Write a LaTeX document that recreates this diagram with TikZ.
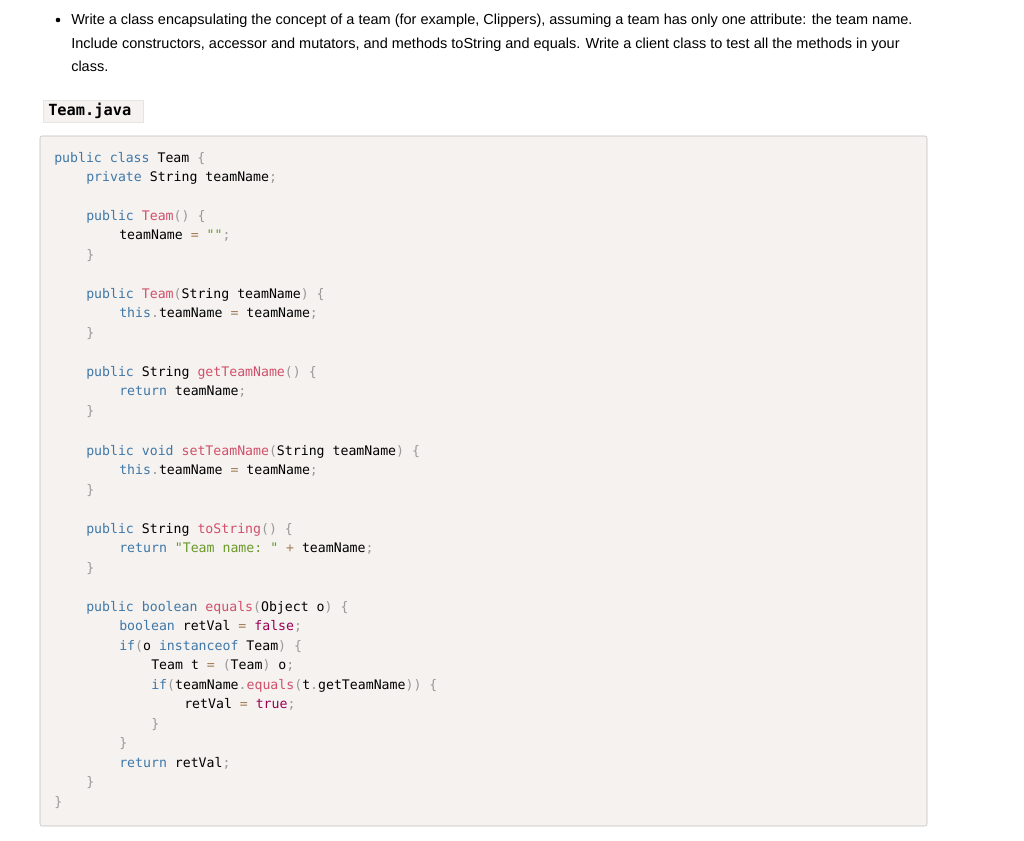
\documentclass[tikz,border=0pt]{standalone}
\usepackage{fontspec}
\setmainfont{Liberation Sans}
\setmonofont{DejaVu Sans Mono}
\usetikzlibrary{positioning}
\definecolor{kwblue}{HTML}{4078A8}
\definecolor{fnred}{HTML}{D0506A}
\definecolor{strgreen}{HTML}{6A9A2A}
\definecolor{punctgray}{HTML}{999999}
\definecolor{opbrown}{HTML}{A67F59}
\definecolor{boolpurple}{HTML}{990055}
\definecolor{codebg}{HTML}{F5F2F0}
\newcommand{\kw}[1]{\textcolor{kwblue}{#1}}
\newcommand{\fn}[1]{\textcolor{fnred}{#1}}
\newcommand{\st}[1]{\textcolor{strgreen}{#1}}
\newcommand{\pu}[1]{\textcolor{punctgray}{#1}}
\newcommand{\op}[1]{\textcolor{opbrown}{#1}}
\newcommand{\bo}[1]{\textcolor{boolpurple}{#1}}
\tikzset{
  prose/.style={anchor=base west, inner sep=0pt, font=\fontsize{10.87}{12}\selectfont},
  code/.style={anchor=base west, inner sep=0pt, font=\ttfamily\fontsize{9.9}{12}\selectfont}
}
\begin{document}
\begin{tikzpicture}[x=0.75pt,y=-0.75pt]
\useasboundingbox[fill=white] (0,0) rectangle (1024,841);
% task text
\fill (58,20) circle (2.3);
\node[prose] (t1) at (71,25) {Write a class encapsulating the concept of a team (for example, Clippers), assuming a team has only one attribute: the team name.};
\node[prose] (t2) at (71,49) {Include constructors, accessor and mutators, and methods toString and equals. Write a client class to test all the methods in your};
\node[prose] (t3) at (71,72) {class.};
% file name
\draw[draw=black!10, fill=codebg] (43,100) rectangle (143,122);
\node[code, font=\ttfamily\bfseries\fontsize{11.5}{12}\selectfont] (fname) at (48,116) {Team.java};
% code box
\draw[draw=black!25, fill=codebg, rounded corners=1.5] (40,136) rectangle (927,826);
\node[code] (l1) at (54,163) {\kw{public} \kw{class} Team \pu{\{}};
\node[code] (l2) at (86,182) {\kw{private} String teamName\pu{;}};
\node[code] (l3) at (86,221) {\kw{public} \fn{Team}\pu{()} \pu{\{}};
\node[code] (l4) at (119,240) {teamName \op{=} \st{""}\pu{;}};
\node[code] (l5) at (86,260) {\pu{\}}};
\node[code] (l6) at (86,299) {\kw{public} \fn{Team}\pu{(}String teamName\pu{)} \pu{\{}};
\node[code] (l7) at (119,318) {\kw{this}\pu{.}teamName \op{=} teamName\pu{;}};
\node[code] (l8) at (86,338) {\pu{\}}};
\node[code] (l9) at (86,377) {\kw{public} String \fn{getTeamName}\pu{()} \pu{\{}};
\node[code] (l10) at (119,396) {\kw{return} teamName\pu{;}};
\node[code] (l11) at (86,416) {\pu{\}}};
\node[code] (l12) at (86,455) {\kw{public} \kw{void} \fn{setTeamName}\pu{(}String teamName\pu{)} \pu{\{}};
\node[code] (l13) at (119,474) {\kw{this}\pu{.}teamName \op{=} teamName\pu{;}};
\node[code] (l14) at (86,494) {\pu{\}}};
\node[code] (l15) at (86,533) {\kw{public} String \fn{toString}\pu{()} \pu{\{}};
\node[code] (l16) at (119,552) {\kw{return} \st{"Team name: "} \op{+} teamName\pu{;}};
\node[code] (l17) at (86,572) {\pu{\}}};
\node[code] (l18) at (86,611) {\kw{public} \kw{boolean} \fn{equals}\pu{(}Object o\pu{)} \pu{\{}};
\node[code] (l19) at (119,630) {\kw{boolean} retVal \op{=} \bo{false}\pu{;}};
\node[code] (l20) at (119,650) {\kw{if}\pu{(}o \kw{instanceof} Team\pu{)} \pu{\{}};
\node[code] (l21) at (151,669) {Team t \op{=} \pu{(}Team\pu{)} o\pu{;}};
\node[code] (l22) at (151,689) {\kw{if}\pu{(}teamName\pu{.}\fn{equals}\pu{(}t\pu{.}getTeamName\pu{))} \pu{\{}};
\node[code] (l23) at (184,708) {retVal \op{=} \bo{true}\pu{;}};
\node[code] (l24) at (151,728) {\pu{\}}};
\node[code] (l25) at (119,747) {\pu{\}}};
\node[code] (l26) at (119,767) {\kw{return} retVal\pu{;}};
\node[code] (l27) at (86,786) {\pu{\}}};
\node[code] (l28) at (54,806) {\pu{\}}};
\end{tikzpicture}
\end{document}
